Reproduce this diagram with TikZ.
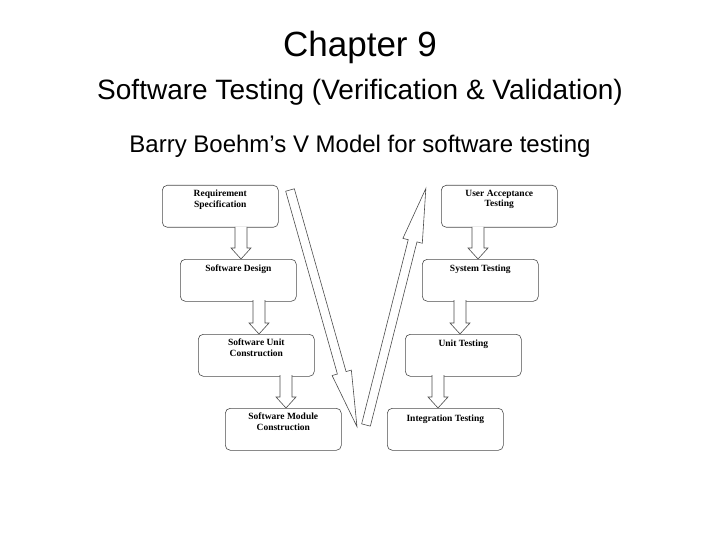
\documentclass[tikz,border=0pt]{standalone}
\usepackage{fontspec}
\setmainfont{Liberation Sans}
\newfontfamily\boxfont{Liberation Serif}
\begin{document}
\begin{tikzpicture}[x=1pt,y=1pt,
  stage/.style={draw=black!70,line width=0.6pt,rounded corners=5pt,minimum width=116pt,minimum height=42pt,anchor=north west,inner sep=0pt},
  lbl/.style={font=\boxfont\bfseries\fontsize{9.5}{10.5}\selectfont,align=center,anchor=north,inner sep=0pt},
  blk/.style={draw=black!70,line width=0.6pt,fill=white}]
\useasboundingbox (0,0) rectangle (720,-540);
\node (t1) at (360,-47) {\fontsize{35}{40}\selectfont Chapter 9};
\node (t2) at (360,-92) {\fontsize{28}{32}\selectfont Software Testing (Verification \& Validation)};
\node (t3) at (360,-146) {\fontsize{24}{28}\selectfont Barry Boehm’s V Model for software testing};
\node[stage] (req) at (162,-185) {};
\node[stage] (des) at (180,-259) {};
\node[stage] (uc) at (198,-334) {};
\node[stage] (mc) at (225,-408) {};
\node[stage] (uat) at (441,-185) {};
\node[stage] (st) at (422,-259) {};
\node[stage] (ut) at (405,-334) {};
\node[stage] (it) at (387,-408) {};
\node[lbl] (lreq) at ([yshift=-5pt]req.north) {Requirement\\Specification};
\node[lbl] (ldes) at ([yshift=-6pt]des.north) {Software Design};
\node[lbl] (luc) at ([yshift=-5pt]uc.north) {Software Unit\\Construction};
\node[lbl] (lmc) at ([yshift=-5pt]mc.north) {Software Module\\Construction};
\node[lbl] (luat) at ([yshift=-5pt]uat.north) {User Acceptance\\Testing};
\node[lbl] (lst) at ([yshift=-6pt]st.north) {System Testing};
\node[lbl] (lut) at ([yshift=-6pt]ut.north) {Unit Testing};
\node[lbl] (lit) at ([yshift=-7pt]it.north) {Integration Testing};
\newcommand{\vba}[2]{%
 \draw[blk] ([xshift=-6pt]#1) -- ([xshift=-6pt,yshift=11pt]#2) -- ([xshift=-10pt,yshift=11pt]#2) -- (#2) -- ([xshift=10pt,yshift=11pt]#2) -- ([xshift=6pt,yshift=11pt]#2) -- ([xshift=6pt]#1);}
\coordinate (a1) at (241,-227); \coordinate (b1) at (241,-259);
\coordinate (a2) at (259,-300); \coordinate (b2) at (259,-334);
\coordinate (a3) at (286,-375); \coordinate (b3) at (286,-408);
\coordinate (a4) at (478,-227); \coordinate (b4) at (478,-259);
\coordinate (a5) at (460,-300); \coordinate (b5) at (460,-334);
\coordinate (a6) at (438,-375); \coordinate (b6) at (438,-408);
\vba{a1}{b1}\vba{a2}{b2}\vba{a3}{b3}\vba{a4}{b4}\vba{a5}{b5}\vba{a6}{b6}
\begin{scope}[shift={(290,-190)},rotate=-74.2]
\draw[blk] (0,4.5) -- (190,4.5) -- (190,10) -- (246,0) -- (190,-10) -- (190,-4.5) -- (0,-4.5) -- cycle;
\end{scope}
\begin{scope}[shift={(366,-425)},rotate=75.8]
\draw[blk] (0,4.5) -- (190,4.5) -- (190,10) -- (244,0) -- (190,-10) -- (190,-4.5) -- (0,-4.5) -- cycle;
\end{scope}
\end{tikzpicture}
\end{document}
